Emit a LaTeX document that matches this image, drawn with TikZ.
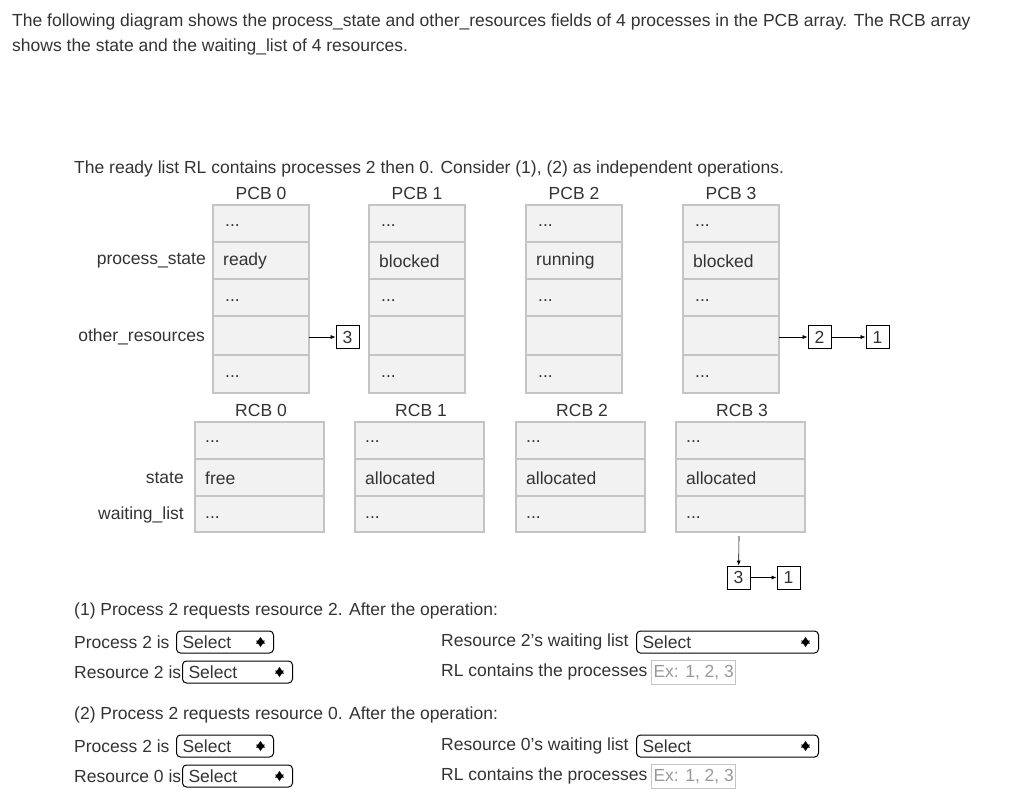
\documentclass[tikz,border=0pt]{standalone}
\usepackage{fontspec}
\setmainfont{Liberation Sans}
\usetikzlibrary{arrows.meta}
\definecolor{txt}{HTML}{333333}
\definecolor{cellfill}{HTML}{F2F2F2}
\definecolor{cellline}{HTML}{C4C4C4}
\begin{document}
\begin{tikzpicture}[x=1pt,y=-1pt,
  every node/.style={text=txt,font=\fontsize{17.5}{20}\selectfont,inner sep=0pt},
  cell/.style={draw=cellline,fill=cellfill,line width=1.6pt},
  ctext/.style={anchor=west},
  lbl/.style={anchor=east},
  lbox/.style={draw=black,line width=0.8pt,minimum width=23pt,minimum height=23pt},
  larr/.style={-{Latex[length=5pt,width=4pt]},line width=0.6pt},
  sel/.style={draw=black,line width=1pt,rounded corners=4pt,anchor=west,minimum height=22pt,text depth=0pt},
  inp/.style={draw=cellline,line width=1pt,anchor=west,minimum height=24pt,minimum width=81pt,text=gray!80,inner xsep=2pt}]
\useasboundingbox (0,0) rectangle (1024,806);
\node[anchor=west] (h1) at (12,22) {The following diagram shows the process\_state and other\_resources fields of 4 processes in the PCB array. The RCB array};
\node[anchor=west] (h2) at (12,47) {shows the state and the waiting\_list of 4 resources.};
\node[anchor=west] (rl) at (74,169) {The ready list RL contains processes 2 then 0. Consider (1), (2) as independent operations.};
% PCBs
\foreach \i/\x/\st in {0/213/ready,1/369/blocked,2/526/running,3/683/blocked}{
  \node (pcbl\i) at (\x+48,193) {PCB \i};
  \foreach \r/\ya/\yb in {0/205/242,1/242/279,2/279/316,3/316/355,4/355/393}
    \draw[cell] (\x,\ya) rectangle (\x+96,\yb);
  \node[ctext] (p\i a) at (\x+12,226) {...};
  \node[ctext] (p\i s) at (\x+10,261) {\st};
  \node[ctext] (p\i b) at (\x+12,301) {...};
  \coordinate (p\i o) at (\x+96,337);
  \node[ctext] (p\i c) at (\x+12,377) {...};
}
\node[lbl] (lps) at (206,261) {process\_state};
\node[lbl] (lor) at (205,337) {other\_resources};
\node[lbox] (b3) at (347.5,337) {3};
\draw[larr] (p0o) -- (b3);
\node[lbox] (b2) at (819.5,337) {2};
\node[lbox] (b1) at (877.5,337) {1};
\draw[larr] (p3o) -- (b2);
\draw[larr] (b2) -- (b1);
% RCBs
\foreach \i/\x/\st in {0/195/free,1/355/allocated,2/516/allocated,3/676/allocated}{
  \node (rcbl\i) at (\x+66,410) {RCB \i};
  \foreach \ya/\yb in {422/459,459/496,496/532}
    \draw[cell] (\x,\ya) rectangle (\x+129,\yb);
  \node[ctext] (r\i a) at (\x+10,442) {...};
  \node[ctext] (r\i s) at (\x+10,478) {\st};
  \node[ctext] (r\i w) at (\x+10,518) {...};
}
\node[lbl] (lst) at (184,478) {state};
\node[lbl] (lwl) at (184,515) {waiting\_list};
\coordinate (r3bot) at (739,536);
\node[lbox] (c3) at (738.5,577.5) {3};
\node[lbox] (c1) at (788.5,577.5) {1};
\draw[larr] (r3bot) -- (c3);
\draw[larr] (c3) -- (c1);
% Questions
\foreach \q/\n/\yq in {1/2/611,2/0/715}{
  \node[anchor=west] (q\q) at (74,\yq) {(\q) Process 2 requests resource \n. After the operation:};
  \node[anchor=west] (pa\q) at (74,\yq+31) {Process 2 is};
  \node[sel,minimum width=97pt,inner xsep=6pt,text width=85pt] (s1\q) at (176,\yq+31) {Select};
  \node[anchor=west] (ra\q) at (74,\yq+61) {Resource \n\ is};
  \node[sel,minimum width=110pt,inner xsep=6pt,text width=98pt] (s2\q) at (182,\yq+61) {Select};
  \node[anchor=west] (wl\q) at (441,\yq+31) {Resource \n's waiting list};
  \node[sel,minimum width=182pt,inner xsep=6pt,text width=170pt] (s3\q) at (636,\yq+31) {Select};
  \node[anchor=west] (rlc\q) at (441,\yq+61) {RL contains the processes};
  \node[inp] (in\q) at (651,\yq+61) {Ex: 1, 2, 3};
}
\foreach \s in {s11,s21,s31,s12,s22,s32}{
  \fill[black] ([xshift=-9pt,yshift=-1.5pt]\s.east) -- ++(-9,0) -- ++(4.5,-6.5) -- cycle;
  \fill[black] ([xshift=-9pt,yshift=1.5pt]\s.east) -- ++(-9,0) -- ++(4.5,6.5) -- cycle;
}
\end{tikzpicture}
\end{document}
